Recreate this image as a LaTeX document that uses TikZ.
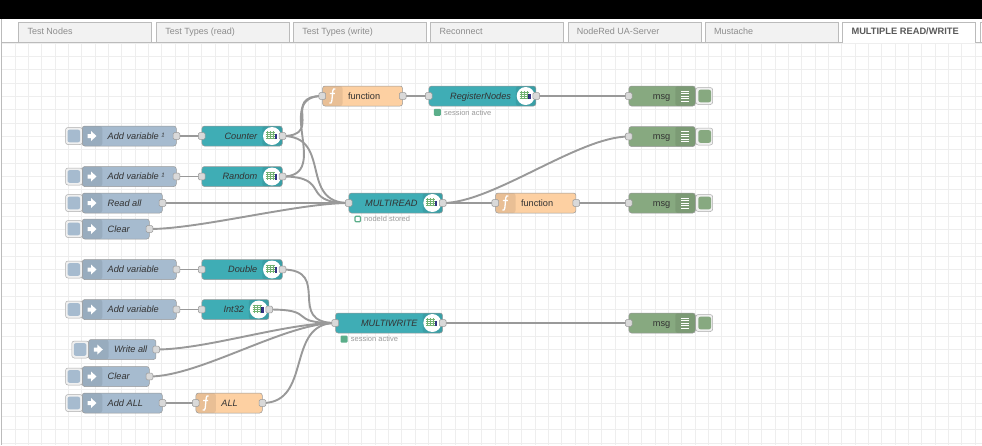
\documentclass[tikz,border=0pt]{standalone}
\usepackage{fontspec}
\setmainfont{Liberation Sans}
\usetikzlibrary{backgrounds}

\definecolor{tabline}{HTML}{BBBBBB}
\definecolor{tabfill}{HTML}{F2F2F2}
\definecolor{gridcol}{HTML}{EEEEEE}
\definecolor{wirecol}{HTML}{999999}
\definecolor{injectcol}{HTML}{A6BBCF}
\definecolor{uacol}{HTML}{3FADB5}
\definecolor{funccol}{HTML}{FDD0A2}
\definecolor{debugcol}{HTML}{87A980}
\definecolor{statuscol}{HTML}{5BAE8A}

\tikzset{
  tabbox/.style={draw=tabline,fill=tabfill,line width=0.8pt,minimum width=132.6pt,minimum height=20pt,
    inner sep=0pt,anchor=west},
  tabtext/.style={anchor=west,inner sep=0pt,text height=6.5pt,text depth=0pt,text=black!45,font=\fontsize{9}{11}\selectfont},
  nodebox/.style={draw=wirecol,line width=0.5pt,rounded corners=2.5pt,minimum height=20pt,inner sep=0pt,anchor=west},
  sectionleft/.style={path picture={\fill[black,opacity=0.08] (path picture bounding box.north west)
    rectangle ([xshift=20pt]path picture bounding box.south west);}},
  sectionright/.style={path picture={\fill[black,opacity=0.08] (path picture bounding box.north east)
    rectangle ([xshift=-20pt]path picture bounding box.south east);}},
  labeltext/.style={inner sep=0pt,text height=6.5pt,text depth=0pt,text=black!80,font=\fontsize{9.2}{11}\selectfont},
  portbox/.style={draw=wirecol,fill=black!15,line width=0.5pt,rounded corners=1.2pt,minimum size=6.7pt,inner sep=0pt},
  buttonbox/.style={draw=wirecol!80,fill=black!6,line width=0.5pt,rounded corners=2.5pt,minimum width=17pt,
    minimum height=17pt,inner sep=0pt},
  buttonfill/.style={rounded corners=2pt,minimum size=12.6pt,inner sep=0pt},
  wire/.style={draw=wirecol,line width=1.9pt},
  statustext/.style={anchor=west,inner sep=0pt,text height=5.5pt,text depth=0pt,text=black!40,font=\fontsize{7.5}{9}\selectfont},
}

\newcommand{\injectnode}[5]{
  \node[buttonbox] (#1-button) at (#2-8,#4) {};
  \node[buttonfill,fill=injectcol] (#1-press) at (#2-8.2,#4) {};
  \node[nodebox,sectionleft,fill=injectcol,minimum width=#3pt] (#1) at (#2,#4) {};
  \fill[white,shift={(#2+10,#4)}] (-4.5,-2)--(-1,-2)--(-1,-5)--(4.5,0)--(-1,5)--(-1,2)--(-4.5,2)--cycle;
  \node[labeltext,anchor=west] (#1-label) at (#2+25.5,#4) {\itshape #5};
  \node[portbox] (#1-out) at (#1.east) {};
}
\newcommand{\uanode}[5]{
  \node[nodebox,sectionright,fill=uacol,minimum width=#3pt] (#1) at (#2,#4) {};
  \node[labeltext,anchor=east] (#1-label) at ([xshift=-25pt]#1.east) {\itshape #5};
  \fill[white] (#2+#3-10,#4) circle (9);
  \draw[green!45!black!55,line width=0.4pt,shift={(#2+#3-10,#4)}] (-6,-4)--(3,-4) (-6,-2)--(3,-2) (-6,0)--(3,0)
    (-6,2)--(3,2) (-5,-5)--(-5,3) (-2,-5)--(-2,3) (1,-5)--(1,3);
  \fill[blue!40!black,opacity=0.8,shift={(#2+#3-10,#4)}] (2.5,-2.5) rectangle (5,3);
  \node[portbox] (#1-in) at (#1.west) {};
  \node[portbox] (#1-out) at (#1.east) {};
}
\newcommand{\funcnode}[5]{
  \node[nodebox,sectionleft,fill=funccol,minimum width=#3pt] (#1) at (#2,#4) {};
  \draw[white,line width=1.3pt,shift={(#2+10,#4)}] (3,-7) .. controls (0,-8) and (0.5,-4) .. (0,0)
    .. controls (-0.5,4) and (0,8) .. (-3,7) (-2.5,-2.5) -- (2.5,-2.5);
  \node[labeltext,anchor=west] (#1-label) at (#2+25.5,#4) {#5};
  \node[portbox] (#1-in) at (#1.west) {};
  \node[portbox] (#1-out) at (#1.east) {};
}
\newcommand{\debugnode}[3]{
  \node[buttonbox] (#1-button) at (#2+75.5,#3) {};
  \node[buttonfill,fill=debugcol] (#1-press) at (#2+76,#3) {};
  \node[nodebox,sectionright,fill=debugcol,minimum width=66.3pt] (#1) at (#2,#3) {};
  \node[labeltext,anchor=east] (#1-label) at ([xshift=-25pt]#1.east) {msg};
  \draw[white,line width=0.8pt,shift={(#2+56.3,#3)}] (-3.7,-5)--(3.7,-5) (-3.7,-2.5)--(3.7,-2.5) (-3.7,0)--(3.7,0)
    (-3.7,2.5)--(3.7,2.5) (-3.7,5)--(3.7,5);
  \node[portbox] (#1-in) at (#1.west) {};
}

\begin{document}
\begin{tikzpicture}[x=1pt,y=-1pt]
\useasboundingbox (0,0) rectangle (982,445);

% top group
\funcnode{funcreg}{322.3}{80}{96}{function}
\uanode{register}{428.7}{107}{96}{RegisterNodes}
\debugnode{msgreg}{628.7}{96}

\injectnode{addcounter}{82}{94}{136}{Add variable ¹}
\uanode{counter}{201.7}{80.3}{136}{Counter}
\debugnode{msgread}{628.7}{136.5}

\injectnode{addrandom}{82}{94}{176.5}{Add variable ¹}
\uanode{random}{201.7}{80.3}{176.5}{Random}

\injectnode{readall}{82}{80}{203}{Read all}
\injectnode{clearread}{82}{67}{229}{Clear}
\uanode{multiread}{348.7}{93.6}{203}{MULTIREAD}
\funcnode{funcread}{495.3}{80.4}{203}{function}
\debugnode{msgfunc}{628.7}{203}

% bottom group
\injectnode{adddouble}{82}{94}{269.5}{Add variable}
\uanode{double}{201.7}{80.3}{269.5}{Double}
\injectnode{addint}{82}{94}{309.5}{Add variable}
\uanode{int}{201.7}{67}{309.5}{Int32}
\injectnode{writeall}{88.3}{67.4}{349.5}{Write all}
\injectnode{clearwrite}{82}{67}{376.5}{Clear}
\injectnode{addall}{82}{80}{403}{Add ALL}
\funcnode{funcall}{195.7}{66.3}{403}{\itshape ALL}
\uanode{multiwrite}{335.3}{107}{323}{MULTIWRITE}
\debugnode{msgwrite}{628.7}{323}

% status
\node[fill=statuscol,rounded corners=1pt,minimum size=7pt,inner sep=0pt] (regdot) at (437.3,112.3) {};
\node[statustext] (regstatus) at (444,112.5) {session active};
\node[draw=statuscol,fill=white,line width=1.2pt,rounded corners=1pt,minimum size=5.5pt,inner sep=0pt] (readdot) at (357.7,219) {};
\node[statustext] (readstatus) at (364,219.2) {nodeId stored};
\node[fill=statuscol,rounded corners=1pt,minimum size=7pt,inner sep=0pt] (writedot) at (344,339) {};
\node[statustext] (writestatus) at (350.7,339.2) {session active};

% tabs
\node[tabbox] (tabnodes) at (18.3,32) {};
\node[tabbox] (tabread) at (156.3,32) {};
\node[tabbox] (tabwrite) at (293.3,32) {};
\node[tabbox] (tabreconnect) at (430.3,32) {};
\node[tabbox] (tabserver) at (568.3,32) {};
\node[tabbox] (tabmustache) at (705.3,32) {};
\node[tabbox,fill=white] (tabmultiple) at (842.3,32) {};
\fill[white] (843,41) rectangle (974.5,43);
\draw[tabline,line width=0.8pt] (980,42) -- (980,22) -- (982,22);

\node[tabtext] at (27.3,31.7) {Test Nodes};
\node[tabtext] at (165.2,31.7) {Test Types (read)};
\node[tabtext] at (302.2,31.7) {Test Types (write)};
\node[tabtext] at (439.5,31.7) {Reconnect};
\node[tabtext] at (576.7,31.7) {NodeRed UA-Server};
\node[tabtext] at (714,31.7) {Mustache};
\node[tabtext,text=black!65,font=\fontsize{9.3}{11}\selectfont\bfseries] at (851.3,31.7) {MULTIPLE READ/WRITE};

\begin{pgfonlayer}{background}
\fill[white] (0,0) rectangle (982,445);
\fill[black] (0,0) rectangle (982,19);
% grid
\foreach \k in {0,...,73} \draw[gridcol,line width=0.7pt] (1.67+13.333*\k,43) -- (1.67+13.333*\k,445);
\foreach \k in {0,...,30} \draw[gridcol,line width=0.7pt] (2,43+13.333*\k) -- (982,43+13.333*\k);
\draw[tabline,line width=0.8pt] (1.3,19) -- (1.3,445);
\draw[tabline,line width=0.8pt] (1.3,42) -- (842,42);
\draw[tabline,line width=0.8pt] (975,42) -- (982,42);

% wires
\draw[wire] (addcounter-out.center) -- (counter-in.center);
\draw[wire] (addrandom-out.center) -- (random-in.center);
\draw[wire] (adddouble-out.center) -- (double-in.center);
\draw[wire] (addint-out.center) -- (int-in.center);
\draw[wire] (addall-out.center) -- (funcall-in.center);
\draw[wire] (funcreg-out.center) -- (register-in.center);
\draw[wire] (register-out.center) -- (msgreg-in.center);
\draw[wire] (multiread-out.center) -- (funcread-in.center);
\draw[wire] (funcread-out.center) -- (msgfunc-in.center);
\draw[wire] (multiwrite-out.center) -- (msgwrite-in.center);
\draw[wire] (counter-out.center) .. controls +(42,0) and +(-42,0) .. (funcreg-in.center);
\draw[wire] (random-out.center) .. controls +(50,0) and +(-50,0) .. (funcreg-in.center);
\draw[wire] (counter-out.center) .. controls +(50,0) and +(-50,0) .. (multiread-in.center);
\draw[wire] (random-out.center) .. controls +(50,0) and +(-50,0) .. (multiread-in.center);
\draw[wire] (readall-out.center) .. controls +(50,0) and +(-50,0) .. (multiread-in.center);
\draw[wire] (clearread-out.center) .. controls +(50,0) and +(-50,0) .. (multiread-in.center);
\draw[wire] (multiread-out.center) .. controls +(50,0) and +(-50,0) .. (msgread-in.center);
\draw[wire] (double-out.center) .. controls +(50,0) and +(-50,0) .. (multiwrite-in.center);
\draw[wire] (int-out.center) .. controls +(50,0) and +(-50,0) .. (multiwrite-in.center);
\draw[wire] (writeall-out.center) .. controls +(50,0) and +(-50,0) .. (multiwrite-in.center);
\draw[wire] (clearwrite-out.center) .. controls +(50,0) and +(-50,0) .. (multiwrite-in.center);
\draw[wire] (funcall-out.center) .. controls +(50,0) and +(-50,0) .. (multiwrite-in.center);
\end{pgfonlayer}
\end{tikzpicture}
\end{document}
